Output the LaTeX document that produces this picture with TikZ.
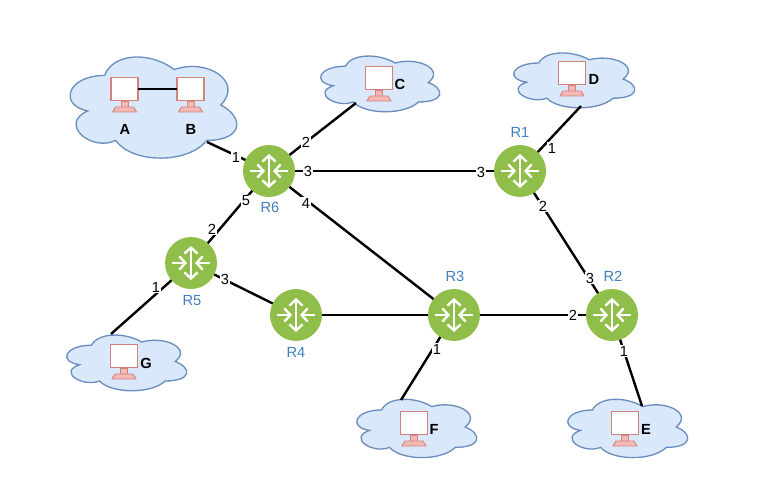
\documentclass[tikz,border=0pt]{standalone}
\usepackage{fontspec}
\setmainfont{Liberation Sans}
\usetikzlibrary{arrows.meta}
\definecolor{cloudfill}{HTML}{DAE8FC}
\definecolor{cloudline}{HTML}{6C8EBF}
\definecolor{pcfill}{HTML}{F4B8B5}
\definecolor{pcline}{HTML}{D4827E}
\definecolor{routerfill}{HTML}{8FBF4A}
\definecolor{routertext}{HTML}{3F7FBF}
\tikzset{router/.style={
        circle,
        fill=routerfill,
        minimum size=39pt,
        inner sep=0pt,
        outer sep=0pt},
        %
        link/.style={
            draw=black,
            line width=1.8pt},
        %
        portlabel/.style={
            font=\fontsize{11pt}{13pt}\selectfont,
            fill=white,
            inner sep=0.6pt},
        %
        rlabel/.style={
            font=\fontsize{11pt}{13pt}\selectfont,
            text=routertext,
            inner sep=0pt},
        %
        hostlabel/.style={
            font=\fontsize{11pt}{13pt}\selectfont\bfseries,
            inner sep=0pt},
        %
        netcloud/.style={
            fill=cloudfill,
            draw=cloudline,
            line width=1pt},
        %
        screen/.style={
            draw=pcline,
            fill=white,
            line width=1.1pt,
            minimum width=20pt,
            minimum height=17pt,
            inner sep=0pt,
            outer sep=0pt},
        %
        pcpart/.style={
            draw=pcline,
            fill=pcfill,
            line width=0.7pt},
        %
        turnarrow/.style={
            draw=white,
            line width=1.8pt,
            -{Straight Barb[length=4.5pt,width=10pt]}},
        %
        pc/.pic={
            \node[screen] (-screen) at (0,0) {};
            \draw[pcpart] (-3.5,12) rectangle (3.5,18);
            \draw[pcpart] (-9,18) -- (9,18) -- (12,23) -- (-12,23) -- cycle;
        },
        %
        routermark/.pic={
            \draw[turnarrow,{Straight Barb[length=4.5pt,width=10pt]}-{Straight Barb[length=4.5pt,width=10pt]}] (0,-17) -- (0,17);
            \draw[turnarrow] (-19,0) -- (-4,0);
            \draw[turnarrow] (19,0) -- (4,0);
        }
    }
% cloud outline: name, left, top, width, height
\newcommand{\cloudnet}[5]{
    \node[minimum width=0pt,inner sep=0pt] (#1) at (#2+#4/2,#3+#5/2) {};
    \draw[netcloud,shift={(#2,#3)},x=#4*0.75pt,y=-#5*0.75pt]
        (0.25,0.25) .. controls (0.05,0.25) and (0,0.5) .. (0.16,0.55)
        .. controls (0,0.66) and (0.18,0.9) .. (0.31,0.8)
        .. controls (0.4,1) and (0.7,1) .. (0.8,0.8)
        .. controls (1,0.8) and (1,0.6) .. (0.875,0.5)
        .. controls (1,0.3) and (0.8,0.1) .. (0.625,0.2)
        .. controls (0.5,0.05) and (0.3,0.05) .. (0.25,0.25) -- cycle;
}

\begin{document}
\begin{tikzpicture}[x=0.75pt,y=-0.75pt]
\useasboundingbox (0,0) rectangle (761,492);

\cloudnet{netAB}{58}{46}{186}{118}
\cloudnet{netC}{312}{50}{133}{65}
\cloudnet{netD}{505}{47}{135}{64}
\cloudnet{netG}{58}{329}{134}{65}
\cloudnet{netF}{348}{393}{134}{68}
\cloudnet{netE}{559}{393}{134}{68}

\foreach \name/\x/\y in {R6/269/171,R1/520/171,R5/191/263,R4/296/315,R3/454/315,R2/612/315}
    \node[router] (\name) at (\x,\y) {};

\foreach \name/\x/\y in {portAB/207/142,portC/356/103,portD/581/106,portG/111/334,portF/401/400,portE/642/406}
    \coordinate (\name) at (\x,\y);

\foreach \from/\to in {R6/portAB,R6/portC,R6/R1,R6/R3,R6/R5,R1/portD,R1/R2,R5/portG,R5/R4,R4/R3,R3/R2,R3/portF,R2/portE}
    \draw[link] (\from) -- (\to);

\foreach \name in {R6,R1,R5,R4,R3,R2}
    \pic at (\name) {routermark};

\foreach \name/\x/\y/\txt in {a/236/157/1,b/306/142/2,c/308/171/3,d/306/203/4,e/246/201/5,
                              f/481/172/3,g/552/148/1,h/543/206/2,
                              i/212/229/2,j/156/287/1,k/225/279/3,
                              l/590/278/3,m/573/315/2,n/624/351/1,o/437/349/1}
    \node[portlabel] (port\name) at (\x,\y) {\txt};

\foreach \name/\x/\y in {R6/270/207,R1/520/132,R5/192/301,R4/296/352,R3/455/276,R2/613/276}
    \node[rlabel] (\name label) at (\x,\y) {\name};

\foreach \name/\x/\y in {A/124.5/89,B/190.5/89,C/379/78,D/572/73,G/124/356,F/414/423,E/625/423}
    \pic (pc\name) at (\x,\y) {pc};

\draw[link] (pcA-screen) -- (pcB-screen);

\foreach \name/\x/\y in {A/125/129,B/191/129,C/400/84,D/594/79,G/146/363,F/434/429,E/646/429}
    \node[hostlabel] (\name label) at (\x,\y) {\name};
\end{tikzpicture}
\end{document}
